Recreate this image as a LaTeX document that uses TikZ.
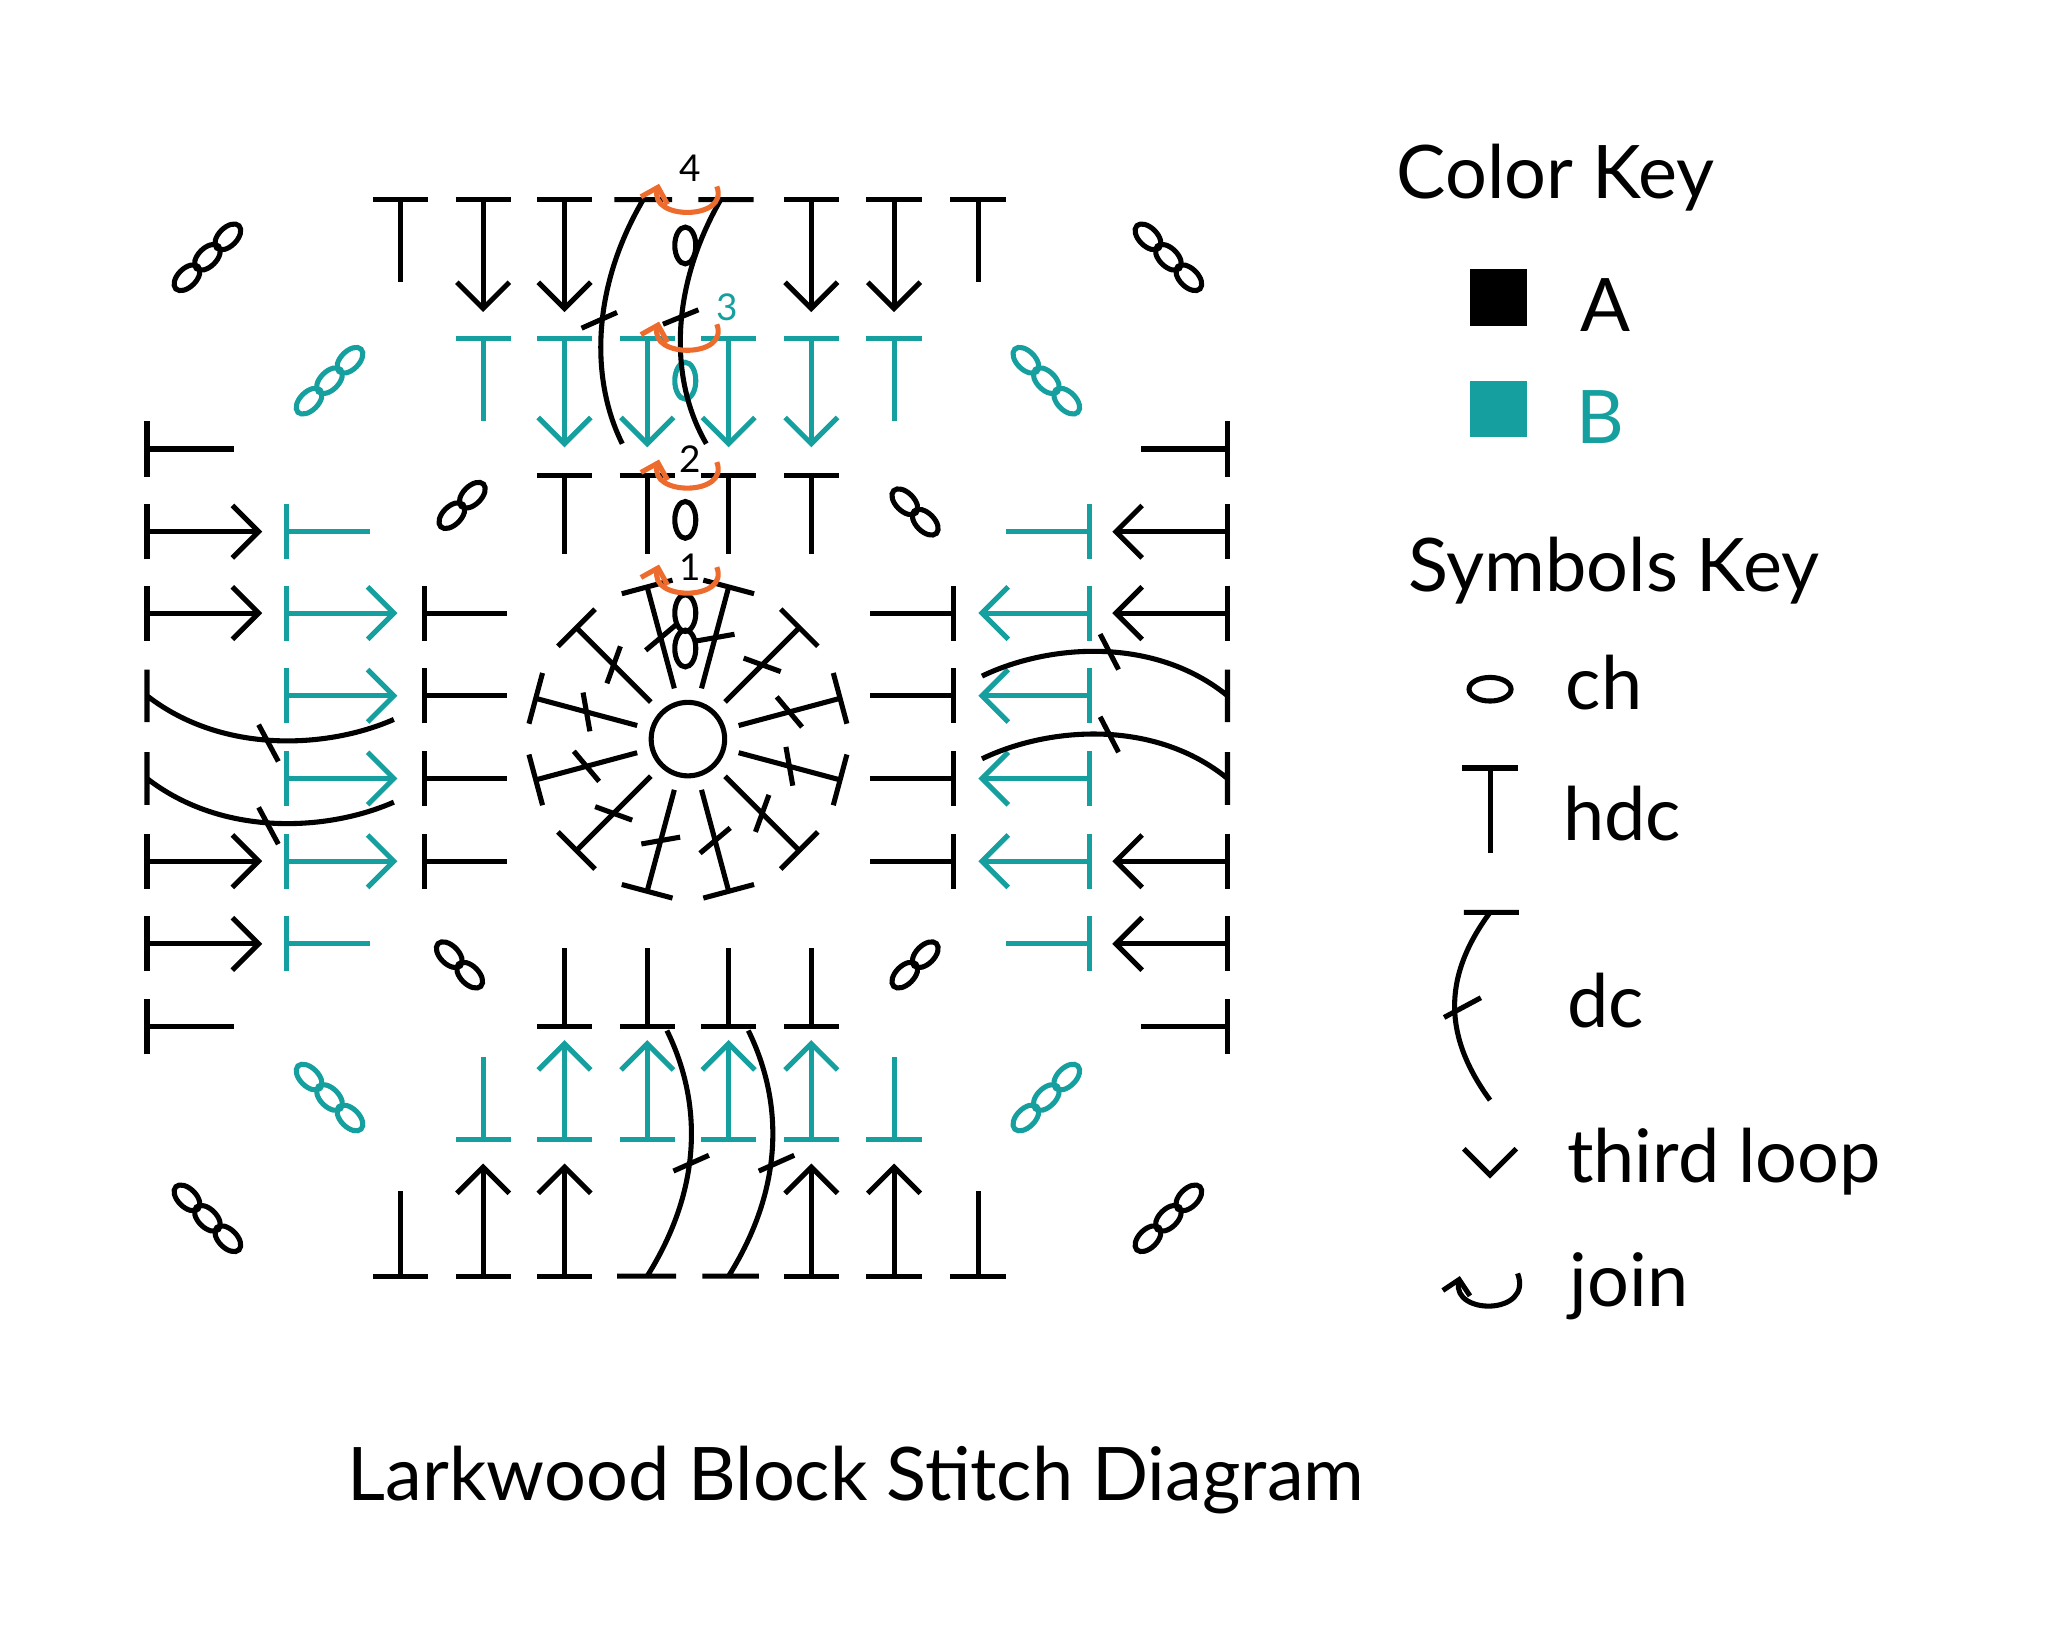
\documentclass[tikz,border=0pt]{standalone}
\usepackage{fontspec}
\setmainfont{Lato}
\usetikzlibrary{arrows.meta}
\definecolor{colB}{HTML}{15A09F}
\definecolor{joinc}{HTML}{EC6B2D}
\tikzset{stitch/.style={line width=1.1pt},
  joinarc/.style={joinc, line width=1.1pt, -{Straight Barb[length=3pt,width=6pt]}},
  keytext/.style={font=\fontsize{16}{18}\selectfont, anchor=west, inner sep=0pt},
  rndlabel/.style={font=\fontsize{8}{9}\selectfont, inner sep=0pt}}
% hdc: colour, x, y, stem direction (ux,uy), stem length
\newcommand{\hdc}[6][black]{%
  \draw[stitch,#1] ({#2-21*(#5)},{#3+21*(#4)}) -- ({#2+21*(#5)},{#3-21*(#4)});
  \draw[stitch,#1] (#2,#3) -- ++({(#4)*(#6)},{(#5)*(#6)});}
% hdc worked in the third loop
\newcommand{\tlp}[6][black]{%
  \hdc[#1]{#2}{#3}{#4}{#5}{#6}
  \draw[stitch,#1] ({#2+(#4)*(#6)-20*(#4)-20*(#5)},{#3+(#5)*(#6)-20*(#5)+20*(#4)})
    -- ++({20*(#4)+20*(#5)},{20*(#5)-20*(#4)}) -- ++({20*(#5)-20*(#4)},{-20*(#5)-20*(#4)});}
% chain of n ovals: colour, x, y, angle, n
\newcommand{\chn}[5][black]{%
  \foreach \k in {1,...,#5}
    \draw[stitch,#1,shift={({#2+(\k-(#5+1)/2)*22*cos(#4)},{#3-(\k-(#5+1)/2)*22*sin(#4)})},rotate=#4]
      (0,0) ellipse (12 and 7);}
% join at round label height
\newcommand{\jn}[1]{%
  \draw[joinarc] (546,{#1-8}) .. controls (556,{#1+18}) and (494,{#1+18}) .. (502,{#1-10});}
\begin{document}
\begin{tikzpicture}[x=0.01cm,y=-0.01cm]
\useasboundingbox (0,0) rectangle (1560,1246);

% round 1
\draw[stitch] (524,563) circle (28);
\foreach \a in {15,45,...,345} {
  \draw[stitch] ({524+40*cos(\a)},{563-40*sin(\a)}) -- ({524+120*cos(\a)},{563-120*sin(\a)});
  \draw[stitch] ({524+120*cos(\a)-20*sin(\a)},{563-120*sin(\a)-20*cos(\a)})
    -- ({524+120*cos(\a)+20*sin(\a)},{563-120*sin(\a)+20*cos(\a)});
  \draw[stitch] ({524+80*cos(\a)+15*cos(\a+115)},{563-80*sin(\a)-15*sin(\a+115)})
    -- ({524+80*cos(\a)-15*cos(\a+115)},{563-80*sin(\a)+15*sin(\a+115)});
}
\draw[stitch] (522,467) ellipse (8 and 14);
\draw[stitch] (522,494) ellipse (8 and 14);

% round 2
\foreach \x in {430,493,555,618} \hdc{\x}{362}{0}{1}{60};
\foreach \y in {467,530,593,656} {
  \hdc{323}{\y}{1}{0}{63}
  \hdc{726}{\y}{-1}{0}{63}
}
\foreach \x in {430,493,555,618} \hdc{\x}{782}{0}{-1}{60};
\draw[stitch] (522,396) ellipse (8 and 14);
\chn{352}{385}{45}{2}
\chn{697}{390}{-45}{2}
\chn{350}{735}{-45}{2}
\chn{697}{735}{45}{2}

% round 3
\foreach \x in {368,681} {
  \hdc[colB]{\x}{258}{0}{1}{63}
  \hdc[colB]{\x}{868}{0}{-1}{63}
}
\foreach \x in {430,493,555,618} {
  \tlp[colB]{\x}{258}{0}{1}{80}
  \tlp[colB]{\x}{868}{0}{-1}{73}
}
\foreach \y in {405,719} {
  \hdc[colB]{218}{\y}{1}{0}{64}
  \hdc[colB]{830}{\y}{-1}{0}{64}
}
\foreach \y in {467,530,593,656} {
  \tlp[colB]{218}{\y}{1}{0}{82}
  \tlp[colB]{830}{\y}{-1}{0}{82}
}
\draw[stitch,colB] (522,290) ellipse (8 and 14);
\chn[colB]{251}{290}{45}{3}
\chn[colB]{797}{290}{-45}{3}
\chn[colB]{251}{836}{-45}{3}
\chn[colB]{797}{836}{45}{3}

% round 4
\foreach \x in {305,745} {
  \hdc{\x}{152}{0}{1}{63}
  \hdc{\x}{972}{0}{-1}{65}
}
\foreach \x in {368,430,618,681} {
  \tlp{\x}{152}{0}{1}{83}
  \tlp{\x}{972}{0}{-1}{83}
}
\foreach \y in {342,782} {
  \hdc{112}{\y}{1}{0}{66}
  \hdc{935}{\y}{-1}{0}{66}
}
\foreach \y in {405,467,656,719} {
  \tlp{112}{\y}{1}{0}{85}
  \tlp{935}{\y}{-1}{0}{85}
}
\draw[stitch] (522,187) ellipse (8 and 14);
\chn{158}{196}{45}{3}
\chn{890}{196}{-45}{3}
\chn{158}{928}{-45}{3}
\chn{890}{928}{45}{3}

% dc of round 4
\draw[stitch] (468,152) -- (512,152) (490,152) .. controls (450,220) and (450,290) .. (474,338);
\draw[stitch] (443,250) -- (470,238);
\draw[stitch] (532,152) -- (574,152) (549,152) .. controls (510,220) and (510,290) .. (538,338);
\draw[stitch] (505,247) -- (532,236);
\draw[stitch] (470,972) -- (515,972) (493,972) .. controls (535,905) and (535,840) .. (508,785);
\draw[stitch] (513,892) -- (540,880);
\draw[stitch] (535,972) -- (578,972) (555,972) .. controls (597,905) and (597,840) .. (570,785);
\draw[stitch] (578,892) -- (605,880);
\foreach \y in {530,593} {
  \draw[stitch] (112,{\y-20}) -- (112,{\y+20}) (112,\y) .. controls (170,{\y+45}) and (250,{\y+40}) .. (300,{\y+18});
  \draw[stitch] (197,{\y+22}) -- (212,{\y+50});
  \draw[stitch] (935,{\y-20}) -- (935,{\y+20}) (935,\y) .. controls (880,{\y-45}) and (800,{\y-40}) .. (748,{\y-15});
  \draw[stitch] (838,{\y-47}) -- (852,{\y-20});
}

% joins
\jn{150} \jn{255} \jn{360} \jn{440}
\node[rndlabel] (r4) at (526,128) {4};
\node[rndlabel,colB] (r3) at (554,234) {3};
\node[rndlabel] (r2) at (526,350) {2};
\node[rndlabel] (r1) at (526,432) {1};

% colour key
\node[keytext] (ckey) at (1063,135) {Color Key};
\fill (1120,205) rectangle (1163,248);
\node[keytext] (ca) at (1203,232) {A};
\fill[colB] (1120,290) rectangle (1163,333);
\node[keytext,colB] (cb) at (1200,318) {B};

% symbols key
\node[keytext] (skey) at (1072,435) {Symbols Key};
\draw[stitch] (1135,525) ellipse (16 and 9);
\node[keytext] (sch) at (1192,520) {ch};
\hdc{1135}{585}{0}{1}{65}
\node[keytext] (shdc) at (1190,620) {hdc};
\draw[stitch] (1115,695) -- (1157,695) (1135,695) .. controls (1098,745) and (1100,790) .. (1135,838);
\draw[stitch] (1100,775) -- (1128,760);
\node[keytext] (sdc) at (1193,762) {dc};
\draw[stitch] (1115,875) -- (1135,895) -- (1155,875);
\node[keytext] (stl) at (1193,885) {third loop};
\draw[stitch,-{Straight Barb[length=3pt,width=6pt]}] (1156,970) .. controls (1168,1002) and (1106,1002) .. (1112,972);
\node[keytext] (sjn) at (1195,980) {join};

\node[font=\fontsize{16}{18}\selectfont] (title) at (652,1127) {Larkwood Block Stitch Diagram};
\end{tikzpicture}
\end{document}
